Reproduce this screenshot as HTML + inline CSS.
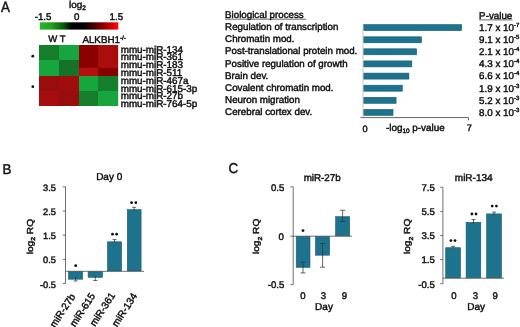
<!DOCTYPE html>
<html><head><meta charset="utf-8">
<style>
html,body{margin:0;padding:0;background:#fff;width:520px;height:327px;overflow:hidden}
svg{display:block}
text{text-rendering:geometricPrecision;font-family:"Liberation Sans",sans-serif;fill:#111;stroke:#111;stroke-width:0.45px}
svg{will-change:transform;filter:blur(0.3px)}
</style></head><body>
<svg width="520" height="327" viewBox="0 0 520 327">
<defs>
<linearGradient id="cb" x1="0" x2="1" y1="0" y2="0">
<stop offset="0" stop-color="#2ab42a"/>
<stop offset="0.15" stop-color="#20a020"/>
<stop offset="0.3" stop-color="#0c5a0c"/>
<stop offset="0.4" stop-color="#000"/>
<stop offset="0.56" stop-color="#000"/>
<stop offset="0.7" stop-color="#480000"/>
<stop offset="0.86" stop-color="#b00000"/>
<stop offset="1" stop-color="#ff0a0a"/>
</linearGradient>
</defs>
<rect width="520" height="327" fill="#fff"/>

<!-- ===== Panel A ===== -->
<text transform="translate(0.9,11.6) scale(0.9,1)" font-size="14.8">A</text>
<text x="69" y="7.8" font-size="10">log<tspan font-size="6.5" dy="1.8">2</tspan></text>
<text x="34.7" y="19.8" font-size="9.7">-1.5</text>
<text x="74.1" y="19.8" font-size="9.7">0</text>
<text x="109.6" y="19.8" font-size="9.7">1.5</text>
<rect x="39.8" y="22.3" width="78.5" height="7.3" fill="url(#cb)"/>
<text x="48.3" y="41.5" font-size="9.5">W T</text>
<text x="82.4" y="42.9" font-size="9.8">ALKBH1<tspan font-size="6.3" dy="-3.3">-/-</tspan></text>

<!-- heatmap -->
<clipPath id="hc"><rect x="39" y="45" width="79.2" height="61"/></clipPath>
<filter id="hb" x="-10%" y="-10%" width="120%" height="120%"><feGaussianBlur stdDeviation="0.6"/></filter>
<g clip-path="url(#hc)"><g filter="url(#hb)" shape-rendering="crispEdges">
<rect x="36" y="42" width="23" height="18.4" fill="#167d2c"/>
<rect x="36" y="60.2" width="23" height="15.8" fill="#19a63c"/>
<rect x="36" y="75.8" width="23" height="15.4" fill="#990707"/>
<rect x="36" y="91" width="23" height="18" fill="#a80a0a"/>
<rect x="58.8" y="42" width="20" height="18.4" fill="#19a63c"/>
<rect x="58.8" y="60.2" width="20" height="15.8" fill="#12722a"/>
<rect x="58.8" y="75.8" width="20" height="15.4" fill="#a00808"/>
<rect x="58.8" y="91" width="20" height="18" fill="#980707"/>
<rect x="78.6" y="42" width="20" height="25.8" fill="#8a0606"/>
<rect x="78.6" y="67.6" width="20" height="8.4" fill="#b80c0c"/>
<rect x="78.6" y="75.8" width="20" height="15.4" fill="#19a63c"/>
<rect x="78.6" y="91" width="20" height="18" fill="#167d2c"/>
<rect x="98.4" y="42" width="23" height="25.8" fill="#ab0a0a"/>
<rect x="98.4" y="67.6" width="23" height="8.4" fill="#850505"/>
<rect x="98.4" y="75.8" width="23" height="15.4" fill="#177f2d"/>
<rect x="98.4" y="91" width="23" height="18" fill="#19a63c"/>
</g></g>
<circle cx="32.8" cy="56.2" r="1.4" fill="#111"/>
<circle cx="32.8" cy="86.7" r="1.4" fill="#111"/>
<line x1="156.2" y1="45" x2="156.2" y2="108" stroke="#aaa" stroke-width="0.8"/>
<g font-size="9.85">
<text x="120.7" y="52.6">mmu-miR-134</text>
<text x="120.7" y="60.4">mmu-miR-361</text>
<text x="120.7" y="68.2">mmu-miR-183</text>
<text x="120.7" y="76.0">mmu-miR-511</text>
<text x="120.7" y="83.8">mmu-miR-467a</text>
<text x="120.7" y="91.6">mmu-miR-615-3p</text>
<text x="120.7" y="99.4">mmu-miR-27b</text>
<text x="120.7" y="107.2">mmu-miR-764-5p</text>
</g>

<!-- biological process -->
<line x1="225" y1="19.2" x2="306" y2="19.2" stroke="#444" stroke-width="0.8"/>
<line x1="479" y1="19.9" x2="512.5" y2="19.9" stroke="#444" stroke-width="0.8"/>
<g font-size="9.75">
<text x="225.1" y="17.8">Biological process</text>
<text x="225.1" y="29.9">Regulation of transcription</text>
<text x="225.1" y="42.1">Chromatin mod.</text>
<text x="225.1" y="54.3">Post-translational protein mod.</text>
<text x="225.1" y="66.5">Positive regulation of growth</text>
<text x="225.1" y="78.7">Brain dev.</text>
<text x="225.1" y="90.9">Covalent chromatin mod.</text>
<text x="225.1" y="103.1">Neuron migration</text>
<text x="225.1" y="115.3">Cerebral cortex dev.</text>
</g>
<g fill="#1d738d" stroke="#145a6e" stroke-width="0.6">
<rect x="363.70" y="24.60" width="97.90" height="6.00"/>
<rect x="363.70" y="36.80" width="57.80" height="6.00"/>
<rect x="363.70" y="48.80" width="52.90" height="6.00"/>
<rect x="363.70" y="60.90" width="48.10" height="6.00"/>
<rect x="363.70" y="73.10" width="45.20" height="6.00"/>
<rect x="363.70" y="85.20" width="38.60" height="6.00"/>
<rect x="363.70" y="97.30" width="32.40" height="6.00"/>
<rect x="363.70" y="109.40" width="29.30" height="6.00"/>
</g>
<path d="M363 24.6 V117.6" fill="none" stroke="#c8b8b0" stroke-width="0.8"/>
<path d="M360.5 117.6 H468.5 V120.2" fill="none" stroke="#555" stroke-width="0.9"/>
<text x="362.4" y="131.5" font-size="9.2">0</text>
<text x="386" y="131.4" font-size="9.9">-log<tspan font-size="6.4" dy="1.9">10</tspan><tspan dy="-1.9"> p-value</tspan></text>
<text x="466.8" y="131.1" font-size="9.2">7</text>

<g font-size="9.8">
<text x="479.1" y="18.6">P-value</text>
<text x="479.1" y="30.6">1.7 x 10<tspan font-size="6" dy="-4">-7</tspan></text>
<text x="479.1" y="42.8">9.1 x 10<tspan font-size="6" dy="-4">-5</tspan></text>
<text x="479.1" y="55">2.1 x 10<tspan font-size="6" dy="-4">-4</tspan></text>
<text x="479.1" y="67.2">4.3 x 10<tspan font-size="6" dy="-4">-4</tspan></text>
<text x="479.1" y="79.4">6.6 x 10<tspan font-size="6" dy="-4">-4</tspan></text>
<text x="479.1" y="91.6">1.9 x 10<tspan font-size="6" dy="-4">-3</tspan></text>
<text x="479.1" y="103.8">5.2 x 10<tspan font-size="6" dy="-4">-3</tspan></text>
<text x="479.1" y="116">8.0 x 10<tspan font-size="6" dy="-4">-3</tspan></text>
</g>

<!-- ===== Panel B ===== -->
<text transform="translate(2.5,173.5) scale(0.94,1)" font-size="14.2">B</text>
<text x="109.2" y="180.4" font-size="10" text-anchor="middle">Day 0</text>
<g font-size="9.2" text-anchor="end">
<text x="55.9" y="190.7">3.5</text>
<text x="55.9" y="214.9">2.5</text>
<text x="55.9" y="239.1">1.5</text>
<text x="55.9" y="263.3">0.5</text>
<text x="55.9" y="287.5">-0.5</text>
</g>
<text transform="translate(32.6,236.6) rotate(-90) scale(1.17,1)" font-size="8.7" text-anchor="middle">log<tspan font-size="5.8" dy="2.8">2</tspan><tspan dy="-2.8"> RQ</tspan></text>
<g fill="#1d738d" stroke="#145a6e" stroke-width="0.6">
<rect x="68.50" y="271.60" width="14.20" height="7.60"/>
<rect x="88.10" y="271.60" width="14.40" height="5.70"/>
<rect x="107.50" y="241.80" width="14.10" height="29.20"/>
<rect x="127.30" y="209.60" width="13.80" height="61.40"/>
</g>
<g stroke="#333" stroke-width="0.75" fill="none">
<path d="M75.6 277.5 V281 M73.6 281 H77.6"/>
<path d="M95.3 276 V280.5 M93.3 280.5 H97.3"/>
<path d="M114.5 239.6 V243 M112.5 239.6 H116.5"/>
<path d="M134.1 207.3 V211 M132.1 207.3 H136.1"/>
</g>
<path d="M62.8 186.8 H65.5 V283.6 H62.8 M62.8 211 H65.5 M62.8 235.2 H65.5 M62.8 259.4 H65.5 M65.5 271.3 H144" fill="none" stroke="#555" stroke-width="0.85"/>
<g fill="#111">
<circle cx="75.7" cy="265.7" r="1.4"/>
<circle cx="112.5" cy="234.2" r="1.4"/><circle cx="116.6" cy="234.2" r="1.4"/>
<circle cx="131.6" cy="202.7" r="1.4"/><circle cx="135.8" cy="202.7" r="1.4"/>
</g>
<g font-size="10" text-anchor="end">
<text transform="translate(75.7,296.5) rotate(-57)">miR-27b</text>
<text transform="translate(95.6,295.9) rotate(-57)">miR-615</text>
<text transform="translate(115.6,295.4) rotate(-57)">miR-361</text>
<text transform="translate(137.5,295.9) rotate(-57)">miR-134</text>
</g>

<!-- ===== Panel C ===== -->
<text transform="translate(228.4,173.4) scale(0.94,1)" font-size="14.2">C</text>
<!-- C left: miR-27b -->
<text x="322.2" y="180.9" font-size="9.8" text-anchor="middle">miR-27b</text>
<g font-size="9.6" text-anchor="end">
<text x="284.3" y="190.8">0.5</text>
<text x="283.8" y="239.5">0</text>
<text x="284.3" y="288">-0.5</text>
</g>
<text transform="translate(259.2,236.4) rotate(-90) scale(1.17,1)" font-size="8.7" text-anchor="middle">log<tspan font-size="5.8" dy="2.8">2</tspan><tspan dy="-2.8"> RQ</tspan></text>
<g fill="#1d738d" stroke="#145a6e" stroke-width="0.6">
<rect x="296.20" y="236.50" width="13.80" height="30.80"/>
<rect x="315.50" y="236.50" width="14.10" height="18.70"/>
<rect x="335.60" y="216.70" width="14.10" height="19.20"/>
</g>
<path d="M290.4 186.8 H293.2 V284.6 H290.4 M290.4 236.2 H352" fill="none" stroke="#555" stroke-width="0.85"/>
<g stroke="#333" stroke-width="0.75" fill="none">
<path d="M303 262.3 V272.9 M300.5 262.3 H305.5 M300.5 272.9 H305.5"/>
<path d="M322.6 243.3 V267.2 M320.1 243.3 H325.1 M320.1 267.2 H325.1"/>
<path d="M342.6 210.3 V221.5 M340.1 210.3 H345.1 M340.1 221.5 H345.1"/>
</g>
<circle cx="303" cy="230.6" r="1.4" fill="#111"/>
<g font-size="9.6" text-anchor="middle">
<text x="302.8" y="299.2">0</text>
<text x="323.4" y="299.2">3</text>
<text x="344.4" y="299.2">9</text>
<text x="324" y="310.2" font-size="10">Day</text>
</g>

<!-- C right: miR-134 -->
<text x="473.7" y="181" font-size="10" text-anchor="middle">miR-134</text>
<g font-size="9.6" text-anchor="end">
<text x="434.8" y="190.8">7.5</text>
<text x="434.8" y="214.9">5.5</text>
<text x="434.8" y="239">3.5</text>
<text x="434.8" y="263.1">1.5</text>
<text x="434.8" y="288.2">-0.5</text>
</g>
<text transform="translate(410.3,236.4) rotate(-90) scale(1.17,1)" font-size="8.7" text-anchor="middle">log<tspan font-size="5.8" dy="2.8">2</tspan><tspan dy="-2.8"> RQ</tspan></text>
<g fill="#1d738d" stroke="#145a6e" stroke-width="0.6">
<rect x="445.70" y="247.70" width="14.80" height="30.20"/>
<rect x="466.10" y="222.30" width="14.70" height="55.60"/>
<rect x="486.60" y="213.90" width="14.90" height="64.00"/>
</g>
<path d="M440.2 187.3 H442.9 V283.7 H440.2 M440.2 211.4 H442.9 M440.2 235.5 H442.9 M440.2 259.6 H442.9 M442.9 278.2 H504" fill="none" stroke="#555" stroke-width="0.85"/>
<g stroke="#333" stroke-width="0.75" fill="none">
<path d="M453.1 246.3 V248.5 M451.1 246.3 H455.1"/>
<path d="M473.5 219.5 V224 M471.5 219.5 H475.5"/>
<path d="M494.1 212.1 V215.5 M492.1 212.1 H496.1"/>
</g>
<g fill="#111">
<circle cx="450.9" cy="240.6" r="1.4"/><circle cx="455" cy="240.6" r="1.4"/>
<circle cx="471.9" cy="214" r="1.4"/><circle cx="476" cy="214" r="1.4"/>
<circle cx="492.2" cy="206.1" r="1.4"/><circle cx="496.4" cy="206.1" r="1.4"/>
</g>
<g font-size="9.6" text-anchor="middle">
<text x="453.8" y="299.2">0</text>
<text x="475.5" y="299.2">3</text>
<text x="495.1" y="299.2">9</text>
<text x="476.2" y="310.2" font-size="10">Day</text>
</g>
</svg>
</body></html>
